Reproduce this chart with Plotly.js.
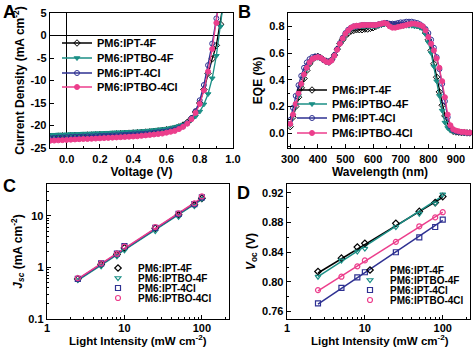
<!DOCTYPE html>
<html><head><meta charset="utf-8">
<script src="https://cdn.plot.ly/plotly-3.0.1.min.js"></script>
<style>html,body{margin:0;padding:0;background:#fff;}#chart{width:474px;height:348px;}</style>
</head><body><div id="chart"></div>
<script>
// ---------- series ----------
const seriesNames = ['PM6:IPT-4F', 'PM6:IPTBO-4F', 'PM6:IPT-4Cl', 'PM6:IPTBO-4Cl'];
const seriesColors = ['#000000', '#1b8f86', '#2e3192', '#ec3e8c'];

// ---------- panel A : J-V ----------
const voltage = [-0.1,-0.075,-0.05,-0.025,0,0.025,0.05,0.075,0.1,0.125,0.15,0.175,0.2,0.225,0.25,0.275,0.3,0.325,0.35,0.375,0.4,0.425,0.45,0.475,0.5,0.525,0.55,0.575,0.6,0.625,0.65,0.675,0.7,0.725,0.75,0.775,0.8,0.825,0.85,0.875,0.9,0.925,0.95];
const jIPT4F   = [-22.4,-22.4,-22.35,-22.3,-22.3,-22.25,-22.2,-22.2,-22.15,-22.1,-22.1,-22.05,-22.0,-22.0,-21.95,-21.9,-21.85,-21.8,-21.75,-21.7,-21.65,-21.6,-21.5,-21.45,-21.4,-21.3,-21.2,-21.1,-20.95,-20.8,-20.6,-20.3,-19.9,-19.3,-18.4,-17.0,-15.0,-12.0,-8.4,-5.2,-2.2,2.5,9.0];
const jIPTBO4F = [-22.1,-22.05,-22.0,-22.0,-21.95,-21.9,-21.9,-21.85,-21.8,-21.8,-21.75,-21.7,-21.7,-21.65,-21.6,-21.55,-21.5,-21.5,-21.45,-21.4,-21.35,-21.3,-21.25,-21.2,-21.1,-21.0,-20.9,-20.8,-20.7,-20.55,-20.35,-20.1,-19.8,-19.4,-18.8,-18.0,-16.9,-15.3,-13.0,-9.5,-4.5,2.0,9.5];
const jIPT4Cl  = [-22.8,-22.75,-22.7,-22.65,-22.6,-22.55,-22.5,-22.5,-22.45,-22.4,-22.4,-22.35,-22.3,-22.3,-22.25,-22.2,-22.15,-22.1,-22.05,-22.0,-21.95,-21.9,-21.85,-21.8,-21.7,-21.6,-21.5,-21.4,-21.3,-21.1,-20.9,-20.6,-20.2,-19.5,-18.4,-16.8,-14.4,-11.0,-6.6,-1.8,3.8,10.0,16.0];
const jIPTBO4Cl= [-23.4,-23.35,-23.3,-23.25,-23.2,-23.15,-23.1,-23.05,-23.0,-23.0,-22.95,-22.9,-22.85,-22.8,-22.75,-22.7,-22.65,-22.6,-22.55,-22.5,-22.45,-22.4,-22.3,-22.2,-22.1,-22.0,-21.9,-21.8,-21.6,-21.4,-21.2,-20.8,-20.3,-19.6,-18.6,-17.2,-15.2,-12.2,-8.0,-3.0,2.8,9.5,16.0];
const aXTickVals = [0,0.2,0.4,0.6,0.8,1.0];
const aXTickText = ['0.0','0.2','0.4','0.6','0.8','1.0'];
const aYTickVals = [-25,-20,-15,-10,-5,0,5];
const aYTickText = ['-25','-20','-15','-10','-5','0','5'];

// ---------- panel B : EQE ----------
const wavelength = [300,310,320,330,340,350,360,370,380,390,400,410,420,430,440,450,460,470,480,490,500,510,520,530,540,550,560,570,580,590,600,610,620,630,640,650,660,670,680,690,700,710,720,730,740,750,760,770,780,790,800,810,820,830,840,850,860,870,880,890,900,910,920,930,940,950];
const eqeIPT4F    = [0.05,0.12,0.20,0.27,0.34,0.41,0.47,0.52,0.55,0.57,0.575,0.565,0.55,0.54,0.535,0.55,0.585,0.63,0.67,0.70,0.73,0.75,0.765,0.77,0.775,0.775,0.775,0.78,0.78,0.785,0.79,0.80,0.81,0.815,0.82,0.82,0.815,0.81,0.81,0.81,0.81,0.81,0.815,0.815,0.815,0.81,0.805,0.80,0.79,0.75,0.70,0.62,0.52,0.42,0.31,0.21,0.13,0.07,0.03,0.015,0.01,0.008,0.005,0.005,0.003,0.003];
const eqeIPTBO4F  = [0.06,0.13,0.21,0.28,0.36,0.43,0.48,0.52,0.55,0.56,0.565,0.56,0.545,0.53,0.525,0.54,0.575,0.62,0.665,0.70,0.735,0.76,0.78,0.79,0.795,0.80,0.80,0.80,0.80,0.80,0.80,0.80,0.805,0.81,0.815,0.815,0.805,0.80,0.80,0.80,0.80,0.805,0.805,0.805,0.805,0.80,0.80,0.79,0.78,0.74,0.68,0.60,0.50,0.39,0.28,0.17,0.08,0.04,0.02,0.015,0.01,0.008,0.005,0.003,0.003,0.002];
const eqeIPT4Cl   = [0.10,0.19,0.28,0.36,0.43,0.49,0.53,0.555,0.57,0.575,0.575,0.565,0.55,0.54,0.535,0.55,0.585,0.63,0.675,0.715,0.75,0.775,0.79,0.80,0.80,0.805,0.81,0.81,0.81,0.81,0.81,0.81,0.815,0.82,0.825,0.825,0.82,0.82,0.82,0.825,0.83,0.83,0.835,0.835,0.835,0.83,0.825,0.815,0.80,0.78,0.75,0.70,0.64,0.57,0.48,0.37,0.24,0.12,0.05,0.025,0.015,0.01,0.008,0.005,0.004,0.003];
const eqeIPTBO4Cl = [0.07,0.14,0.22,0.30,0.37,0.44,0.49,0.53,0.555,0.565,0.57,0.565,0.55,0.535,0.53,0.545,0.58,0.625,0.67,0.71,0.745,0.77,0.79,0.80,0.805,0.805,0.81,0.81,0.81,0.81,0.81,0.81,0.815,0.82,0.825,0.82,0.80,0.79,0.79,0.795,0.80,0.805,0.81,0.815,0.82,0.82,0.815,0.81,0.80,0.77,0.72,0.67,0.62,0.56,0.49,0.39,0.27,0.14,0.06,0.03,0.02,0.015,0.01,0.01,0.005,0.005];
const bYTickVals = [0,0.2,0.4,0.6,0.8];
const bYTickText = ['0.0','0.2','0.4','0.6','0.8'];

// ---------- panel C / D : light intensity ----------
const lightIntensity = [2.5,5,8,10,25,50,80,100];
const jscIPT4F    = [0.60,1.15,1.80,2.40,5.8,10.5,16.5,22.0];
const jscIPTBO4F  = [0.57,1.05,1.65,2.15,5.1,9.6,15.5,21.5];
const jscIPT4Cl   = [0.60,1.20,1.85,2.60,5.9,11.0,17.0,23.0];
const jscIPTBO4Cl = [0.62,1.20,1.85,2.55,6.1,11.2,17.5,24.0];
const fitX = [2.5,100];
const jscFitIPT4F = [0.58,21.5], jscFitIPTBO4F = [0.56,21.0], jscFitIPT4Cl = [0.59,22.0], jscFitIPTBO4Cl = [0.60,22.5];
const vocIPT4F    = [0.814,0.832,0.847,0.852,0.879,0.895,0.907,0.915];
const vocIPTBO4F  = [0.807,0.829,0.841,0.845,0.874,0.892,0.906,0.918];
const vocIPT4Cl   = [0.771,0.792,0.806,0.813,0.840,0.860,0.874,0.884];
const vocIPTBO4Cl = [0.789,0.807,0.821,0.829,0.854,0.875,0.887,0.894];
const vocFitIPT4F = [0.812,0.914], vocFitIPTBO4F = [0.807,0.916], vocFitIPT4Cl = [0.770,0.883], vocFitIPTBO4Cl = [0.788,0.894];
const logXTickVals = [1,10,100], logXTickText = ['1','10','100'];
const cYTickVals = [0.1,1,10], cYTickText = ['0.1','1','10'];
const dYTickVals = [0.76,0.80,0.84,0.88,0.92], dYTickText = ['0.76','0.80','0.84','0.88','0.92'];

// ---------- styling ----------
const W = 474, H = 348;
const FONT = 'Liberation Sans, Arial, Helvetica, sans-serif';
const symJV = ['diamond-open','triangle-down','circle-open','circle'];
const symLog = ['diamond-open','triangle-down-open','square-open','circle-open'];
const px = v => v / W, py = v => 1 - v / H;

let legCount = 0;
const legendLayouts = {};
function newLegend(textX, rowY, size) {
  const id = legCount === 0 ? 'legend' : 'legend' + (legCount + 1);
  legCount++;
  legendLayouts[id] = {x: px(textX - 40), y: py(rowY), xanchor: 'left', yanchor: 'middle',
    bgcolor: 'rgba(0,0,0,0)', borderwidth: 0, tracegroupgap: 0,
    font: {family: FONT, size: size, color: '#000', weight: 'bold'}};
  return id;
}

const traces = [];
const jvY = [jIPT4F, jIPTBO4F, jIPT4Cl, jIPTBO4Cl];
const eqeY = [eqeIPT4F, eqeIPTBO4F, eqeIPT4Cl, eqeIPTBO4Cl];
const jscY = [jscIPT4F, jscIPTBO4F, jscIPT4Cl, jscIPTBO4Cl];
const jscFit = [jscFitIPT4F, jscFitIPTBO4F, jscFitIPT4Cl, jscFitIPTBO4Cl];
const vocY = [vocIPT4F, vocIPTBO4F, vocIPT4Cl, vocIPTBO4Cl];
const vocFit = [vocFitIPT4F, vocFitIPTBO4F, vocFitIPT4Cl, vocFitIPTBO4Cl];

const legA = {x: 97, rows: [43, 58, 73, 87]};
const legB = {x: 332, rows: [90, 104, 118, 133]};
const legC = {x: 138, rows: [268, 278, 288, 298]};
const legD = {x: 390, rows: [270, 280, 290, 300]};

for (let i = 0; i < 4; i++) {
  traces.push({x: voltage, y: jvY[i], xaxis: 'x', yaxis: 'y', mode: 'lines+markers', name: seriesNames[i],
    line: {color: seriesColors[i], width: 1.3},
    marker: {symbol: symJV[i], size: 5, color: seriesColors[i], line: {color: seriesColors[i], width: 1}},
    legend: newLegend(legA.x, legA.rows[i], 11)});
}
for (let i = 0; i < 4; i++) {
  traces.push({x: wavelength, y: eqeY[i], xaxis: 'x2', yaxis: 'y2', mode: 'lines+markers', name: seriesNames[i],
    line: {color: seriesColors[i], width: 1.3},
    marker: {symbol: symJV[i], size: 5, color: seriesColors[i], line: {color: seriesColors[i], width: 1}},
    legend: newLegend(legB.x, legB.rows[i], 11)});
}
for (let i = 0; i < 4; i++) {
  traces.push({x: fitX, y: jscFit[i], xaxis: 'x3', yaxis: 'y3', mode: 'lines', showlegend: false,
    line: {color: seriesColors[i], width: 1.5}});
}
for (let i = 0; i < 4; i++) {
  traces.push({x: lightIntensity, y: jscY[i], xaxis: 'x3', yaxis: 'y3', mode: 'markers', name: seriesNames[i],
    marker: {symbol: symLog[i], size: 5, color: seriesColors[i], line: {color: seriesColors[i], width: 1.2}},
    legend: newLegend(legC.x, legC.rows[i], 10)});
}
for (let i = 0; i < 4; i++) {
  traces.push({x: fitX, y: vocFit[i], xaxis: 'x4', yaxis: 'y4', mode: 'lines', showlegend: false,
    line: {color: seriesColors[i], width: 1.5}});
}
for (let i = 0; i < 4; i++) {
  traces.push({x: lightIntensity, y: vocY[i], xaxis: 'x4', yaxis: 'y4', mode: 'markers', name: seriesNames[i],
    marker: {symbol: symLog[i], size: 5, color: seriesColors[i], line: {color: seriesColors[i], width: 1.2}},
    legend: newLegend(legD.x, legD.rows[i], 10)});
}

function ax(extra) {
  const base = {showline: true, linecolor: '#000', linewidth: 1.3, mirror: true,
    ticks: 'inside', ticklen: 4, tickwidth: 1, tickcolor: '#000', showgrid: false, zeroline: false,
    fixedrange: true, automargin: false,
    tickfont: {family: FONT, size: 11, color: '#000', weight: 'bold'}};
  return Object.assign(base, extra);
}
const TITLE_FONT = {family: FONT, size: 12, color: '#000', weight: 'bold'};
function ttl(text, standoff) {
  return {text: text, standoff: standoff, font: TITLE_FONT};
}
function minorLog(lo, hi) {
  const v = [];
  for (let d = lo; d < hi; d++) for (let k = 2; k <= 9; k++) v.push(k * Math.pow(10, d));
  return v;
}
function label(text, x, y, size) {
  return {text: text, x: px(x), y: py(y), xref: 'paper', yref: 'paper', xanchor: 'left', yanchor: 'top',
    showarrow: false, font: {family: FONT, size: size, color: '#000', weight: 'bold'}};
}
function bottomTitle(text, cx) {
  return {text: text, x: px(cx), y: py(348), xref: 'paper', yref: 'paper', xanchor: 'center', yanchor: 'bottom',
    showarrow: false, borderpad: 0, font: {family: FONT, size: 11.5, color: '#000', weight: 'bold'}};
}

const layout = Object.assign({
  width: W, height: H, margin: {l: 0, r: 0, t: 0, b: 0},
  paper_bgcolor: '#fff', plot_bgcolor: '#fff',
  font: {family: FONT, color: '#000', weight: 'bold'},
  xaxis: ax({domain: [px(50), px(233)], anchor: 'y', range: [-0.1, 1.0], tickvals: aXTickVals, ticktext: aXTickText,
    minor: {tickvals: [-0.1, 0.1, 0.3, 0.5, 0.7, 0.9], ticks: 'inside', ticklen: 2, tickcolor: '#000'},
    zeroline: true, zerolinecolor: '#000', zerolinewidth: 1, title: ttl('Voltage (V)', 4)}),
  yaxis: ax({domain: [py(148), py(13)], anchor: 'x', range: [-25, 5], tickvals: aYTickVals, ticktext: aYTickText,
    zeroline: true, zerolinecolor: '#000', zerolinewidth: 1, title: ttl('Current Density (mA cm<sup>-2</sup>)', 3)}),
  xaxis2: ax({domain: [px(288), px(472)], anchor: 'y2', range: [292, 958], dtick: 100, tick0: 300,
    minor: {dtick: 50, ticks: 'inside', ticklen: 2, tickcolor: '#000'}, title: ttl('Wavelength (nm)', 4)}),
  yaxis2: ax({domain: [py(148), py(13)], anchor: 'x2', range: [-0.11, 0.9], tickvals: bYTickVals, ticktext: bYTickText,
    minor: {dtick: 0.1, tick0: 0, ticks: 'inside', ticklen: 2, tickcolor: '#000'}, title: ttl('EQE (%)', 4)}),
  xaxis3: ax({domain: [px(47), px(229)], anchor: 'y3', type: 'log', range: [0, 2.35], tickvals: logXTickVals, ticktext: logXTickText,
    ticklabelstandoff: -2,
    minor: {tickvals: minorLog(0, 3), ticks: 'inside', ticklen: 2, tickcolor: '#000'}}),
  yaxis3: ax({domain: [py(319), py(184)], anchor: 'x3', type: 'log', range: [-1, 1.62], tickvals: cYTickVals, ticktext: cYTickText,
    minor: {tickvals: minorLog(-1, 2), ticks: 'inside', ticklen: 2, tickcolor: '#000'},
    title: ttl('<i>J</i><sub><i>sc</i></sub> (mA cm<sup>-2</sup>)', 3)}),
  xaxis4: ax({domain: [px(287), px(470)], anchor: 'y4', type: 'log', range: [0, 2.35], tickvals: logXTickVals, ticktext: logXTickText,
    ticklabelstandoff: -2,
    minor: {tickvals: minorLog(0, 3), ticks: 'inside', ticklen: 2, tickcolor: '#000'}}),
  yaxis4: ax({domain: [py(319), py(184)], anchor: 'x4', range: [0.75, 0.932], tickvals: dYTickVals, ticktext: dYTickText,
    minor: {dtick: 0.02, tick0: 0.76, ticks: 'inside', ticklen: 2, tickcolor: '#000'},
    title: ttl('<i>V</i><sub>oc</sub> (V)', 4)}),
  annotations: [
    label('A', 1, 0, 18), label('B', 236, 0, 18), label('C', 1, 174, 18), label('D', 235, 181, 18),
    bottomTitle('Light Intensity (mW cm<sup>-2</sup>)', 138),
    bottomTitle('Light Intensity (mW cm<sup>-2</sup>)', 380)
  ]
}, legendLayouts);

Plotly.newPlot('chart', traces, layout, {displayModeBar: false, staticPlot: true});
</script></body></html>
